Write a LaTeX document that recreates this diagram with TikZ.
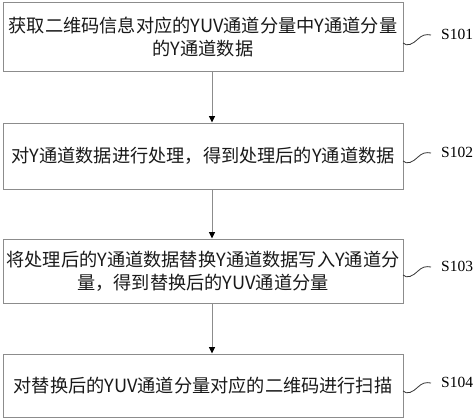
\documentclass[tikz,border=0pt]{standalone}
\usepackage{fontspec}
\setmainfont{Liberation Serif}
\newfontfamily\cjk{Noto Sans CJK SC}
\usetikzlibrary{arrows.meta}
\definecolor{boxgray}{HTML}{8C8C8C}
\tikzset{
  stepbox/.style={draw=boxgray, line width=1pt, minimum width=400pt, align=center,
    inner sep=0pt, font=\cjk\fontsize{18.2}{23}\selectfont, text=black!90},
  flow/.style={draw=boxgray, line width=0.9pt, -{Triangle[length=6.5pt,width=6pt,color=black]}},
  lead/.style={draw=black!80, line width=0.8pt},
  steplabel/.style={anchor=west, inner sep=0pt, font=\fontsize{15.5}{18}\selectfont}
}
\begin{document}
\begin{tikzpicture}[x=1pt,y=-1pt]
\useasboundingbox (0,0) rectangle (474,420);
\node[stepbox, minimum height=69pt] (b1) at (203,37.5) {获取二维码信息对应的YUV通道分量中Y通道分量\\的Y通道数据};
\node[stepbox, minimum height=66pt] (b2) at (203,156) {对Y通道数据进行处理，得到处理后的Y通道数据};
\node[stepbox, minimum height=64pt] (b3) at (203,271) {将处理后的Y通道数据替换Y通道数据写入Y通道分\\量，得到替换后的YUV通道分量};
\node[stepbox, minimum height=63pt] (b4) at (203,385.5) {对替换后的YUV通道分量对应的二维码进行扫描};
\coordinate (ax) at (212,0);
\draw[flow] (b1.south -| ax) -- (b2.north -| ax);
\draw[flow] (b2.south -| ax) -- (b3.north -| ax);
\draw[flow] (b3.south -| ax) -- (b4.north -| ax);
\foreach \b/\y/\t in {b1/43/S101, b2/161/S102, b3/275/S103, b4/391/S104}{
  \coordinate (s\b) at (403,\y);
  \node[steplabel] (l\b) at (441,\y-9) {\t};
  \draw[lead] (s\b) .. controls (407,\y+4) and (413,\y+1) .. (418,\y-4)
     .. controls (422,\y-8) and (426,\y-9) .. (431,\y-8);
}
\end{tikzpicture}
\end{document}
